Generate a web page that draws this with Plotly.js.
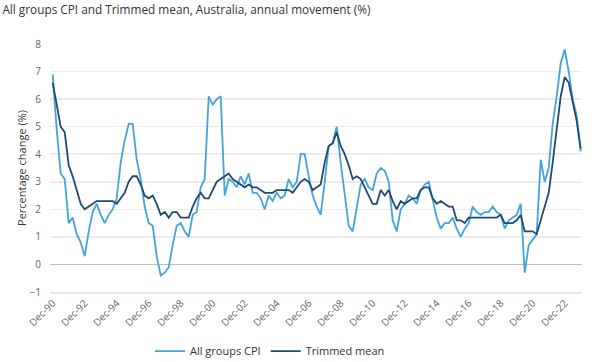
<!DOCTYPE html>
<html>
<head>
<meta charset="utf-8">
<script src="https://cdn.plot.ly/plotly-3.0.1.min.js"></script>
<style>html,body{margin:0;padding:0;background:#fff;}#chart{width:600px;height:362px;}</style>
</head>
<body>
<div id="chart"></div>
<script>
// Quarterly annual movement (%), Dec-1990 to Dec-2023
var startYear = 1990; // first observation: Dec quarter 1990
var cpiValues = [
  6.9, 4.9, 3.3, 3.1, 1.5, 1.7, 1.1, 0.8, 0.3, 1.2, 1.9, 2.2, 1.8,
  1.5, 1.8, 2.0, 2.4, 3.7, 4.5, 5.1, 5.1, 3.8, 3.1, 2.1, 1.5,
  1.4, 0.3, -0.4, -0.3, -0.1, 0.7, 1.4, 1.5, 1.2, 1.0, 1.8, 1.9,
  2.8, 3.1, 6.1, 5.8,
  6.0, 6.1, 2.5, 3.1,
  3.0, 2.8, 3.2, 2.9,
  3.3, 2.6, 2.6, 2.4,
  2.0, 2.5, 2.3, 2.6,
  2.4, 2.5, 3.1, 2.8,
  3.0, 4.0, 4.0, 3.2,
  2.5, 2.1, 1.8, 3.0,
  4.3, 4.4, 5.0, 3.7,
  2.5, 1.4, 1.2, 2.1,
  2.9, 3.1, 2.8, 2.7,
  3.3, 3.5, 3.4, 3.0,
  1.6, 1.2, 2.0, 2.2,
  2.5, 2.4, 2.2, 2.7,
  2.9, 3.0, 2.3, 1.7,
  1.3, 1.5, 1.5, 1.7,
  1.3, 1.0, 1.3, 1.5,
  2.1, 1.9, 1.8, 1.9,
  1.9, 2.1, 1.9, 1.8,
  1.3, 1.6, 1.7, 1.8,
  2.2, -0.3, 0.7, 0.9,
  1.1, 3.8, 3.0, 3.5,
  5.1, 6.1, 7.3, 7.8,
  7.0, 6.0, 5.4, 4.1
];
var trimmedMeanValues = [
  6.6, 5.8, 5.0, 4.8, 3.6, 3.2, 2.7, 2.2, 2.0, 2.1, 2.2, 2.3, 2.3,
  2.3, 2.3, 2.3, 2.2, 2.4, 2.6, 3.0, 3.2, 3.2, 2.9, 2.5, 2.4,
  2.5, 2.2, 1.8, 1.9, 1.7, 1.9, 1.9, 1.7, 1.7, 1.7, 2.1, 2.4,
  2.6, 2.4, 2.4, 2.7,
  3.0, 3.1, 3.2, 3.3,
  3.1, 3.0, 2.9, 2.8,
  2.9, 2.8, 2.8, 2.7,
  2.6, 2.6, 2.6, 2.7,
  2.7, 2.7, 2.7, 2.6,
  2.8, 3.0, 3.1, 3.0,
  2.7, 2.8, 2.9, 3.7,
  4.3, 4.4, 4.8, 4.3,
  4.0, 3.6, 3.1, 3.2,
  3.1, 2.8, 2.5, 2.2,
  2.2, 2.7, 2.5, 2.7,
  2.3, 2.0, 2.3, 2.2,
  2.3, 2.4, 2.4, 2.7,
  2.8, 2.8, 2.4, 2.2,
  2.3, 2.2, 2.1, 2.1,
  1.6, 1.6, 1.5, 1.7,
  1.7, 1.7, 1.7, 1.7,
  1.7, 1.7, 1.7, 1.8,
  1.5, 1.5, 1.5, 1.6,
  1.8, 1.2, 1.2, 1.2,
  1.1, 1.6, 2.1, 2.6,
  3.7, 4.9, 6.1, 6.8,
  6.6, 5.9, 5.2, 4.2
];
var tickLabels = ['Dec-90','Dec-92','Dec-94','Dec-96','Dec-98','Dec-00','Dec-02','Dec-04',
  'Dec-06','Dec-08','Dec-10','Dec-12','Dec-14','Dec-16','Dec-18','Dec-20','Dec-22'];
var seriesNames = ['All groups CPI', 'Trimmed mean'];

// quarter category labels (Dec-90, Mar-91, ...)
var monthNames = ['Mar','Jun','Sep','Dec'];
var quarters = [];
for (var i = 0; i < cpiValues.length; i++) {
  var k = 3 + i;
  var yr = startYear + Math.floor(k / 4);
  quarters.push(monthNames[k % 4] + '-' + String(yr % 100).padStart(2, '0'));
}

var FONT = '"Open Sans", "Noto Sans", sans-serif';
var traces = [
  {x: quarters, y: cpiValues, name: seriesNames[0], type: 'scatter', mode: 'lines',
   line: {color: '#44a3dc', width: 1.8}},
  {x: quarters, y: trimmedMeanValues, name: seriesNames[1], type: 'scatter', mode: 'lines',
   line: {color: '#1f4a72', width: 1.8}}
];
var layout = {
  width: 600, height: 362,
  margin: {l: 50, r: 18, t: 44, b: 70, autoexpand: false},
  paper_bgcolor: '#ffffff', plot_bgcolor: '#ffffff',
  font: {family: FONT, color: '#555'},
  title: {text: 'All groups CPI and Trimmed mean, Australia, annual movement (%)',
          x: 0.004, xanchor: 'left', xref: 'container',
          y: 0.985, yanchor: 'top', yref: 'container',
          font: {family: FONT, size: 11.8, color: '#333'}},
  xaxis: {type: 'category', range: [-0.675, cpiValues.length - 0.675], automargin: false,
          tickmode: 'array', tickvals: tickLabels, ticktext: tickLabels,
          tickangle: -45, tickfont: {size: 10, color: '#666'},
          showgrid: false, zeroline: false, showline: true,
          linecolor: '#dfe7f4', linewidth: 1.5, ticks: ''},
  yaxis: {range: [-1, 8], dtick: 1, tick0: 0, showgrid: true, automargin: false,
          gridcolor: '#ececec', gridwidth: 1.5,
          zeroline: true, zerolinecolor: '#bdbdbd', zerolinewidth: 1.5,
          tickfont: {size: 10, color: '#666'}, ticks: '', ticklabelstandoff: 8,
          title: {text: 'Percentage change (%)', standoff: 0,
                  font: {size: 11, color: '#333'}}},
  showlegend: true,
  legend: {orientation: 'h', x: 0.45, xref: 'container', xanchor: 'center',
           y: 0.03, yref: 'container', yanchor: 'middle',
           font: {size: 11, color: '#333'}, itemwidth: 30},
  hovermode: false
};
Plotly.newPlot('chart', traces, layout, {displayModeBar: false, staticPlot: true});
</script>
</body>
</html>
